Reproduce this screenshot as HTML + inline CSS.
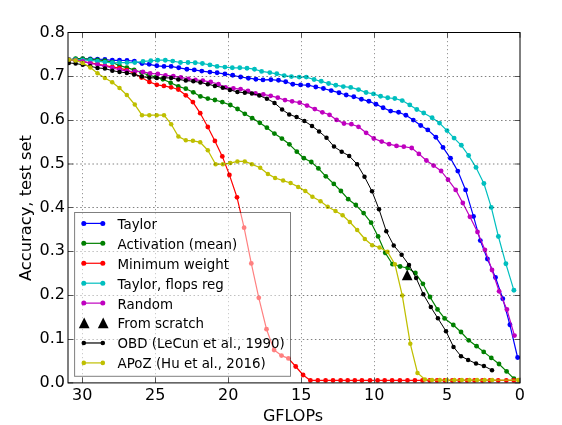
<!DOCTYPE html>
<html><head><meta charset="utf-8"><title>Accuracy vs GFLOPs</title>
<style>html,body{margin:0;padding:0;background:#fff;overflow:hidden}svg{display:block}</style>
</head><body>
<svg width="562" height="425" viewBox="0 0 562 425">
<defs><clipPath id="ax"><rect x="68" y="32.5" width="452" height="350.4"/></clipPath></defs>
<rect width="562" height="425" fill="#fff"/>
<g clip-path="url(#ax)">
<path d="M68.8 59.8 L75.6 59.2 L82.7 59 L90.3 58.9 L97.5 59.2 L104.9 59.5 L112.3 60.3 L119.5 60.3 L127 60.5 L134.4 61.2 L142 63.6 L149.2 64.3 L156.8 65.8 L164 66.4 L171.1 66.4 L178.7 67.8 L186.9 69.2 L194.3 69.9 L201.8 71.1 L209.9 72.1 L217.1 72.8 L224.9 73.9 L232.7 75.3 L240.6 77 L248.4 78.2 L255.9 79.2 L263 79.9 L270.9 79.7 L278.5 80.3 L285.7 81.8 L292.8 84.2 L300.6 84.9 L308.1 85.2 L315.8 87 L323.4 88.5 L331.2 90.6 L339 92.7 L346.2 95 L353.8 96.8 L361.4 99.2 L368.9 101.3 L376 104.2 L383.1 107.7 L390.6 111.1 L398.6 112.3 L405.9 115.3 L413.3 120.1 L420.7 125.5 L427.8 129.9 L435.9 137.3 L443 147.4 L450.5 158.3 L457.8 171.1 L465.6 189.9 L473.5 216.4 L480.3 240.6 L487.4 259 L495.5 277.5 L502.8 298.7 L509.9 324.8 L517.6 357.5" fill="none" stroke="#0000ff" stroke-width="1.2" stroke-linejoin="round"/>
<g fill="#0000ff"><circle cx="68.8" cy="59.8" r="2.45"/><circle cx="75.6" cy="59.2" r="2.45"/><circle cx="82.7" cy="59" r="2.45"/><circle cx="90.3" cy="58.9" r="2.45"/><circle cx="97.5" cy="59.2" r="2.45"/><circle cx="104.9" cy="59.5" r="2.45"/><circle cx="112.3" cy="60.3" r="2.45"/><circle cx="119.5" cy="60.3" r="2.45"/><circle cx="127" cy="60.5" r="2.45"/><circle cx="134.4" cy="61.2" r="2.45"/><circle cx="142" cy="63.6" r="2.45"/><circle cx="149.2" cy="64.3" r="2.45"/><circle cx="156.8" cy="65.8" r="2.45"/><circle cx="164" cy="66.4" r="2.45"/><circle cx="171.1" cy="66.4" r="2.45"/><circle cx="178.7" cy="67.8" r="2.45"/><circle cx="186.9" cy="69.2" r="2.45"/><circle cx="194.3" cy="69.9" r="2.45"/><circle cx="201.8" cy="71.1" r="2.45"/><circle cx="209.9" cy="72.1" r="2.45"/><circle cx="217.1" cy="72.8" r="2.45"/><circle cx="224.9" cy="73.9" r="2.45"/><circle cx="232.7" cy="75.3" r="2.45"/><circle cx="240.6" cy="77" r="2.45"/><circle cx="248.4" cy="78.2" r="2.45"/><circle cx="255.9" cy="79.2" r="2.45"/><circle cx="263" cy="79.9" r="2.45"/><circle cx="270.9" cy="79.7" r="2.45"/><circle cx="278.5" cy="80.3" r="2.45"/><circle cx="285.7" cy="81.8" r="2.45"/><circle cx="292.8" cy="84.2" r="2.45"/><circle cx="300.6" cy="84.9" r="2.45"/><circle cx="308.1" cy="85.2" r="2.45"/><circle cx="315.8" cy="87" r="2.45"/><circle cx="323.4" cy="88.5" r="2.45"/><circle cx="331.2" cy="90.6" r="2.45"/><circle cx="339" cy="92.7" r="2.45"/><circle cx="346.2" cy="95" r="2.45"/><circle cx="353.8" cy="96.8" r="2.45"/><circle cx="361.4" cy="99.2" r="2.45"/><circle cx="368.9" cy="101.3" r="2.45"/><circle cx="376" cy="104.2" r="2.45"/><circle cx="383.1" cy="107.7" r="2.45"/><circle cx="390.6" cy="111.1" r="2.45"/><circle cx="398.6" cy="112.3" r="2.45"/><circle cx="405.9" cy="115.3" r="2.45"/><circle cx="413.3" cy="120.1" r="2.45"/><circle cx="420.7" cy="125.5" r="2.45"/><circle cx="427.8" cy="129.9" r="2.45"/><circle cx="435.9" cy="137.3" r="2.45"/><circle cx="443" cy="147.4" r="2.45"/><circle cx="450.5" cy="158.3" r="2.45"/><circle cx="457.8" cy="171.1" r="2.45"/><circle cx="465.6" cy="189.9" r="2.45"/><circle cx="473.5" cy="216.4" r="2.45"/><circle cx="480.3" cy="240.6" r="2.45"/><circle cx="487.4" cy="259" r="2.45"/><circle cx="495.5" cy="277.5" r="2.45"/><circle cx="502.8" cy="298.7" r="2.45"/><circle cx="509.9" cy="324.8" r="2.45"/><circle cx="517.6" cy="357.5" r="2.45"/></g>
<path d="M68.8 59.8 L75.6 58.7 L82.7 58.7 L90.3 59.3 L97.5 60 L104.9 60.7 L112.3 62.3 L119.5 65.7 L126.9 67.7 L134.1 69.8 L141.5 72.5 L148.8 75.2 L156 77.2 L162.9 79.3 L170.6 82.8 L178.3 86.4 L185.8 88.7 L193.3 92.3 L200.4 96.4 L207.8 98.6 L214.9 100 L222.3 102.1 L230.3 105 L237.5 109 L244.8 113.8 L252.2 118.2 L259.8 122.8 L266.9 127.7 L274.4 133.6 L281.9 138.6 L289.4 144.3 L296.8 151.7 L303.9 158.2 L311.3 162 L318.4 168.4 L325.8 176.3 L333.8 183.9 L340.9 191 L348.2 199.2 L355.8 205 L363.6 213.1 L371.1 222.7 L378.1 236.4 L385.2 252.8 L392.5 264.2 L400.1 266.5 L407.6 268 L415.4 273 L422.9 283.8 L430 297 L437.5 309.4 L444.6 318.4 L453.3 325 L461 332 L468.7 340.3 L476.6 346.2 L483.7 351.9 L491.3 357.9 L499 364 L506.6 371.4 L513.9 378.6" fill="none" stroke="#008000" stroke-width="1.2" stroke-linejoin="round"/>
<g fill="#008000"><circle cx="68.8" cy="59.8" r="2.4"/><circle cx="75.6" cy="58.7" r="2.4"/><circle cx="82.7" cy="58.7" r="2.4"/><circle cx="90.3" cy="59.3" r="2.4"/><circle cx="97.5" cy="60" r="2.4"/><circle cx="104.9" cy="60.7" r="2.4"/><circle cx="112.3" cy="62.3" r="2.4"/><circle cx="119.5" cy="65.7" r="2.4"/><circle cx="126.9" cy="67.7" r="2.4"/><circle cx="134.1" cy="69.8" r="2.4"/><circle cx="141.5" cy="72.5" r="2.4"/><circle cx="148.8" cy="75.2" r="2.4"/><circle cx="156" cy="77.2" r="2.4"/><circle cx="162.9" cy="79.3" r="2.4"/><circle cx="170.6" cy="82.8" r="2.4"/><circle cx="178.3" cy="86.4" r="2.4"/><circle cx="185.8" cy="88.7" r="2.4"/><circle cx="193.3" cy="92.3" r="2.4"/><circle cx="200.4" cy="96.4" r="2.4"/><circle cx="207.8" cy="98.6" r="2.4"/><circle cx="214.9" cy="100" r="2.4"/><circle cx="222.3" cy="102.1" r="2.4"/><circle cx="230.3" cy="105" r="2.4"/><circle cx="237.5" cy="109" r="2.4"/><circle cx="244.8" cy="113.8" r="2.4"/><circle cx="252.2" cy="118.2" r="2.4"/><circle cx="259.8" cy="122.8" r="2.4"/><circle cx="266.9" cy="127.7" r="2.4"/><circle cx="274.4" cy="133.6" r="2.4"/><circle cx="281.9" cy="138.6" r="2.4"/><circle cx="289.4" cy="144.3" r="2.4"/><circle cx="296.8" cy="151.7" r="2.4"/><circle cx="303.9" cy="158.2" r="2.4"/><circle cx="311.3" cy="162" r="2.4"/><circle cx="318.4" cy="168.4" r="2.4"/><circle cx="325.8" cy="176.3" r="2.4"/><circle cx="333.8" cy="183.9" r="2.4"/><circle cx="340.9" cy="191" r="2.4"/><circle cx="348.2" cy="199.2" r="2.4"/><circle cx="355.8" cy="205" r="2.4"/><circle cx="363.6" cy="213.1" r="2.4"/><circle cx="371.1" cy="222.7" r="2.4"/><circle cx="378.1" cy="236.4" r="2.4"/><circle cx="385.2" cy="252.8" r="2.4"/><circle cx="392.5" cy="264.2" r="2.4"/><circle cx="400.1" cy="266.5" r="2.4"/><circle cx="407.6" cy="268" r="2.4"/><circle cx="415.4" cy="273" r="2.4"/><circle cx="422.9" cy="283.8" r="2.4"/><circle cx="430" cy="297" r="2.4"/><circle cx="437.5" cy="309.4" r="2.4"/><circle cx="444.6" cy="318.4" r="2.4"/><circle cx="453.3" cy="325" r="2.4"/><circle cx="461" cy="332" r="2.4"/><circle cx="468.7" cy="340.3" r="2.4"/><circle cx="476.6" cy="346.2" r="2.4"/><circle cx="483.7" cy="351.9" r="2.4"/><circle cx="491.3" cy="357.9" r="2.4"/><circle cx="499" cy="364" r="2.4"/><circle cx="506.6" cy="371.4" r="2.4"/><circle cx="513.9" cy="378.6" r="2.4"/></g>
<path d="M68.8 59.8 L75.6 60.3 L82.7 61.5 L90.3 62.8 L97.5 64 L104.9 65.7 L112.3 66.8 L119.5 68.2 L126.9 70.2 L134.1 73.5 L141.5 77.5 L149.4 81.9 L156.8 84.8 L163.9 85.9 L171.1 87.3 L178.3 89.5 L185.8 95.3 L192.9 102.1 L200.2 113.2 L207.8 127 L214.9 140.9 L222.3 156.4 L229.4 174.9 L237 197.3 L244.1 227.7 L251.3 263.4 L258.8 297.8 L266.5 329.2 L274.1 350 L281.5 355.6 L288.4 358.4 L295.7 366.5 L303.1 375 L310.4 380.4 L317.8 380.4 L325.6 380.4 L333 380.4 L340.6 380.4 L347.7 380.4 L354.8 380.4 L361.9 380.4 L370 380.4 L377.6 380.4 L384.7 380.4 L392.1 380.4 L399.9 380.4 L407.5 380.4 L414.9 380.4 L422.5 380.4 L429.7 380.4 L437.1 380.4 L444.8 380.4 L452.3 380.4 L459.7 380.4 L467.2 380.4 L474.5 380.4 L482.4 380.4 L489.9 380.4 L498.2 380.4 L506.3 380.4 L513.8 380.4" fill="none" stroke="#ff0000" stroke-width="1.2" stroke-linejoin="round"/>
<g fill="#ff0000"><circle cx="68.8" cy="59.8" r="2.4"/><circle cx="75.6" cy="60.3" r="2.4"/><circle cx="82.7" cy="61.5" r="2.4"/><circle cx="90.3" cy="62.8" r="2.4"/><circle cx="97.5" cy="64" r="2.4"/><circle cx="104.9" cy="65.7" r="2.4"/><circle cx="112.3" cy="66.8" r="2.4"/><circle cx="119.5" cy="68.2" r="2.4"/><circle cx="126.9" cy="70.2" r="2.4"/><circle cx="134.1" cy="73.5" r="2.4"/><circle cx="141.5" cy="77.5" r="2.4"/><circle cx="149.4" cy="81.9" r="2.4"/><circle cx="156.8" cy="84.8" r="2.4"/><circle cx="163.9" cy="85.9" r="2.4"/><circle cx="171.1" cy="87.3" r="2.4"/><circle cx="178.3" cy="89.5" r="2.4"/><circle cx="185.8" cy="95.3" r="2.4"/><circle cx="192.9" cy="102.1" r="2.4"/><circle cx="200.2" cy="113.2" r="2.4"/><circle cx="207.8" cy="127" r="2.4"/><circle cx="214.9" cy="140.9" r="2.4"/><circle cx="222.3" cy="156.4" r="2.4"/><circle cx="229.4" cy="174.9" r="2.4"/><circle cx="237" cy="197.3" r="2.4"/><circle cx="244.1" cy="227.7" r="2.4"/><circle cx="251.3" cy="263.4" r="2.4"/><circle cx="258.8" cy="297.8" r="2.4"/><circle cx="266.5" cy="329.2" r="2.4"/><circle cx="274.1" cy="350" r="2.4"/><circle cx="281.5" cy="355.6" r="2.4"/><circle cx="288.4" cy="358.4" r="2.4"/><circle cx="295.7" cy="366.5" r="2.4"/><circle cx="303.1" cy="375" r="2.4"/><circle cx="310.4" cy="380.4" r="2.4"/><circle cx="317.8" cy="380.4" r="2.4"/><circle cx="325.6" cy="380.4" r="2.4"/><circle cx="333" cy="380.4" r="2.4"/><circle cx="340.6" cy="380.4" r="2.4"/><circle cx="347.7" cy="380.4" r="2.4"/><circle cx="354.8" cy="380.4" r="2.4"/><circle cx="361.9" cy="380.4" r="2.4"/><circle cx="370" cy="380.4" r="2.4"/><circle cx="377.6" cy="380.4" r="2.4"/><circle cx="384.7" cy="380.4" r="2.4"/><circle cx="392.1" cy="380.4" r="2.4"/><circle cx="399.9" cy="380.4" r="2.4"/><circle cx="407.5" cy="380.4" r="2.4"/><circle cx="414.9" cy="380.4" r="2.4"/><circle cx="422.5" cy="380.4" r="2.4"/><circle cx="429.7" cy="380.4" r="2.4"/><circle cx="437.1" cy="380.4" r="2.4"/><circle cx="444.8" cy="380.4" r="2.4"/><circle cx="452.3" cy="380.4" r="2.4"/><circle cx="459.7" cy="380.4" r="2.4"/><circle cx="467.2" cy="380.4" r="2.4"/><circle cx="474.5" cy="380.4" r="2.4"/><circle cx="482.4" cy="380.4" r="2.4"/><circle cx="489.9" cy="380.4" r="2.4"/><circle cx="498.2" cy="380.4" r="2.4"/><circle cx="506.3" cy="380.4" r="2.4"/><circle cx="513.8" cy="380.4" r="2.4"/></g>
<path d="M68.8 59.8 L75.6 59.8 L82.7 60 L90.3 60.3 L97.5 61.2 L104.9 62.1 L112.3 62.8 L119.5 62.6 L127 62.6 L134.8 62.6 L143 61.4 L150.8 60.8 L157.7 60.2 L165.3 60.2 L172.7 61.1 L180.5 62.5 L188 62.5 L195.2 62.7 L202.4 63.5 L209.9 64.9 L217.1 66.4 L224.9 67.1 L232.3 67.8 L239.8 67.8 L247 68.2 L254.5 69.2 L261.6 71.4 L269.8 72.6 L276.8 73.8 L284.2 75.6 L291.4 76.6 L299.2 77.1 L306.3 77.1 L314.1 79.5 L321.2 81.3 L328.6 83.5 L335.8 85.2 L343.3 86.6 L350.7 87.4 L358.5 89.6 L366.1 92.5 L373.5 93.9 L380.6 96.3 L387.7 97.8 L394.8 98.5 L402.2 100.6 L409.8 104.9 L416.8 109.5 L423.7 113 L432.1 117.8 L439.5 123.1 L447 130.6 L454.1 138.1 L461.3 145.3 L468.6 155.5 L476 167.4 L483.9 183.5 L491.3 207.4 L498.4 236.5 L505.9 263.8 L513.9 290.3" fill="none" stroke="#00bfbf" stroke-width="1.2" stroke-linejoin="round"/>
<g fill="#00bfbf"><circle cx="68.8" cy="59.8" r="2.45"/><circle cx="75.6" cy="59.8" r="2.45"/><circle cx="82.7" cy="60" r="2.45"/><circle cx="90.3" cy="60.3" r="2.45"/><circle cx="97.5" cy="61.2" r="2.45"/><circle cx="104.9" cy="62.1" r="2.45"/><circle cx="112.3" cy="62.8" r="2.45"/><circle cx="119.5" cy="62.6" r="2.45"/><circle cx="127" cy="62.6" r="2.45"/><circle cx="134.8" cy="62.6" r="2.45"/><circle cx="143" cy="61.4" r="2.45"/><circle cx="150.8" cy="60.8" r="2.45"/><circle cx="157.7" cy="60.2" r="2.45"/><circle cx="165.3" cy="60.2" r="2.45"/><circle cx="172.7" cy="61.1" r="2.45"/><circle cx="180.5" cy="62.5" r="2.45"/><circle cx="188" cy="62.5" r="2.45"/><circle cx="195.2" cy="62.7" r="2.45"/><circle cx="202.4" cy="63.5" r="2.45"/><circle cx="209.9" cy="64.9" r="2.45"/><circle cx="217.1" cy="66.4" r="2.45"/><circle cx="224.9" cy="67.1" r="2.45"/><circle cx="232.3" cy="67.8" r="2.45"/><circle cx="239.8" cy="67.8" r="2.45"/><circle cx="247" cy="68.2" r="2.45"/><circle cx="254.5" cy="69.2" r="2.45"/><circle cx="261.6" cy="71.4" r="2.45"/><circle cx="269.8" cy="72.6" r="2.45"/><circle cx="276.8" cy="73.8" r="2.45"/><circle cx="284.2" cy="75.6" r="2.45"/><circle cx="291.4" cy="76.6" r="2.45"/><circle cx="299.2" cy="77.1" r="2.45"/><circle cx="306.3" cy="77.1" r="2.45"/><circle cx="314.1" cy="79.5" r="2.45"/><circle cx="321.2" cy="81.3" r="2.45"/><circle cx="328.6" cy="83.5" r="2.45"/><circle cx="335.8" cy="85.2" r="2.45"/><circle cx="343.3" cy="86.6" r="2.45"/><circle cx="350.7" cy="87.4" r="2.45"/><circle cx="358.5" cy="89.6" r="2.45"/><circle cx="366.1" cy="92.5" r="2.45"/><circle cx="373.5" cy="93.9" r="2.45"/><circle cx="380.6" cy="96.3" r="2.45"/><circle cx="387.7" cy="97.8" r="2.45"/><circle cx="394.8" cy="98.5" r="2.45"/><circle cx="402.2" cy="100.6" r="2.45"/><circle cx="409.8" cy="104.9" r="2.45"/><circle cx="416.8" cy="109.5" r="2.45"/><circle cx="423.7" cy="113" r="2.45"/><circle cx="432.1" cy="117.8" r="2.45"/><circle cx="439.5" cy="123.1" r="2.45"/><circle cx="447" cy="130.6" r="2.45"/><circle cx="454.1" cy="138.1" r="2.45"/><circle cx="461.3" cy="145.3" r="2.45"/><circle cx="468.6" cy="155.5" r="2.45"/><circle cx="476" cy="167.4" r="2.45"/><circle cx="483.9" cy="183.5" r="2.45"/><circle cx="491.3" cy="207.4" r="2.45"/><circle cx="498.4" cy="236.5" r="2.45"/><circle cx="505.9" cy="263.8" r="2.45"/><circle cx="513.9" cy="290.3" r="2.45"/></g>
<path d="M68.8 59.9 L75.6 60.3 L82.7 61.3 L90.3 63.4 L97.5 64.6 L104.9 66.2 L112.3 68 L119.5 69.6 L127 71.2 L135 71.3 L142.9 71.9 L150.2 73.4 L157.8 74 L165.5 75.4 L173.3 76.1 L180.8 77.4 L188.3 78.9 L195.4 79.9 L202.8 80.6 L210.7 82 L218.5 84.2 L225.6 87.3 L233.4 88.4 L240.6 89.1 L248 91 L255.5 93.4 L263.3 94.4 L270.7 95.8 L277.8 97.7 L285 100.1 L292.1 101.3 L299.6 102.7 L307 105.6 L314.8 109.1 L322.4 112.3 L329.5 114.8 L336.6 119.9 L344 123.5 L351.4 124.2 L358.5 126.8 L366.1 132.8 L373.8 138.5 L381.7 141.6 L389.1 144.2 L396.5 145.9 L403.8 146.7 L411.7 148 L418.9 153.9 L426.4 160.5 L433.6 165.6 L441.1 171 L448 179.7 L455.7 189.9 L462.8 203 L469.9 216.8 L477.5 232 L484.9 249.8 L492 270 L499.1 291.3 L506.9 309.5 L514.5 335.6" fill="none" stroke="#bf00bf" stroke-width="1.2" stroke-linejoin="round"/>
<g fill="#bf00bf"><circle cx="68.8" cy="59.9" r="2.4"/><circle cx="75.6" cy="60.3" r="2.4"/><circle cx="82.7" cy="61.3" r="2.4"/><circle cx="90.3" cy="63.4" r="2.4"/><circle cx="97.5" cy="64.6" r="2.4"/><circle cx="104.9" cy="66.2" r="2.4"/><circle cx="112.3" cy="68" r="2.4"/><circle cx="119.5" cy="69.6" r="2.4"/><circle cx="127" cy="71.2" r="2.4"/><circle cx="135" cy="71.3" r="2.4"/><circle cx="142.9" cy="71.9" r="2.4"/><circle cx="150.2" cy="73.4" r="2.4"/><circle cx="157.8" cy="74" r="2.4"/><circle cx="165.5" cy="75.4" r="2.4"/><circle cx="173.3" cy="76.1" r="2.4"/><circle cx="180.8" cy="77.4" r="2.4"/><circle cx="188.3" cy="78.9" r="2.4"/><circle cx="195.4" cy="79.9" r="2.4"/><circle cx="202.8" cy="80.6" r="2.4"/><circle cx="210.7" cy="82" r="2.4"/><circle cx="218.5" cy="84.2" r="2.4"/><circle cx="225.6" cy="87.3" r="2.4"/><circle cx="233.4" cy="88.4" r="2.4"/><circle cx="240.6" cy="89.1" r="2.4"/><circle cx="248" cy="91" r="2.4"/><circle cx="255.5" cy="93.4" r="2.4"/><circle cx="263.3" cy="94.4" r="2.4"/><circle cx="270.7" cy="95.8" r="2.4"/><circle cx="277.8" cy="97.7" r="2.4"/><circle cx="285" cy="100.1" r="2.4"/><circle cx="292.1" cy="101.3" r="2.4"/><circle cx="299.6" cy="102.7" r="2.4"/><circle cx="307" cy="105.6" r="2.4"/><circle cx="314.8" cy="109.1" r="2.4"/><circle cx="322.4" cy="112.3" r="2.4"/><circle cx="329.5" cy="114.8" r="2.4"/><circle cx="336.6" cy="119.9" r="2.4"/><circle cx="344" cy="123.5" r="2.4"/><circle cx="351.4" cy="124.2" r="2.4"/><circle cx="358.5" cy="126.8" r="2.4"/><circle cx="366.1" cy="132.8" r="2.4"/><circle cx="373.8" cy="138.5" r="2.4"/><circle cx="381.7" cy="141.6" r="2.4"/><circle cx="389.1" cy="144.2" r="2.4"/><circle cx="396.5" cy="145.9" r="2.4"/><circle cx="403.8" cy="146.7" r="2.4"/><circle cx="411.7" cy="148" r="2.4"/><circle cx="418.9" cy="153.9" r="2.4"/><circle cx="426.4" cy="160.5" r="2.4"/><circle cx="433.6" cy="165.6" r="2.4"/><circle cx="441.1" cy="171" r="2.4"/><circle cx="448" cy="179.7" r="2.4"/><circle cx="455.7" cy="189.9" r="2.4"/><circle cx="462.8" cy="203" r="2.4"/><circle cx="469.9" cy="216.8" r="2.4"/><circle cx="477.5" cy="232" r="2.4"/><circle cx="484.9" cy="249.8" r="2.4"/><circle cx="492" cy="270" r="2.4"/><circle cx="499.1" cy="291.3" r="2.4"/><circle cx="506.9" cy="309.5" r="2.4"/><circle cx="514.5" cy="335.6" r="2.4"/></g>
<path d="M68.8 62.9 L75.6 63.6 L82.7 64.7 L90.3 66.3 L97.5 67.9 L104.9 68.6 L112.3 70.7 L119.5 71.9 L126.9 72.9 L134.1 74.4 L141.9 76.6 L149.3 77.8 L156.8 77.9 L163.9 77.9 L171.1 77.9 L178.3 79.4 L185.8 80.6 L193.3 81.3 L200.4 82.5 L207.8 84.2 L214.9 85.9 L222.8 87.7 L229.9 89.9 L237.4 92 L244.8 92.7 L251.9 93.4 L259.3 95.6 L266.9 98.7 L274.5 102.9 L282.1 109.5 L289.2 114.4 L296.6 117.1 L304.4 121 L312 126 L319.1 131.4 L326.5 137.8 L334 146.6 L341.7 151.7 L349.2 155.9 L357.1 164.2 L364.5 176.8 L372 191.3 L379 209.3 L386.3 231.3 L393.7 245.4 L401.6 254.8 L409 265 L416.1 277.9 L423.3 294.3 L430.8 307.1 L437.9 318.3 L446 331.2 L453.5 346.9 L461 356.2 L468.1 359.9 L476 363.5 L483.9 365.9 L492 370.2" fill="none" stroke="#000000" stroke-width="1.0" stroke-linejoin="round"/>
<g fill="#000000"><circle cx="68.8" cy="62.9" r="2.25"/><circle cx="75.6" cy="63.6" r="2.25"/><circle cx="82.7" cy="64.7" r="2.25"/><circle cx="90.3" cy="66.3" r="2.25"/><circle cx="97.5" cy="67.9" r="2.25"/><circle cx="104.9" cy="68.6" r="2.25"/><circle cx="112.3" cy="70.7" r="2.25"/><circle cx="119.5" cy="71.9" r="2.25"/><circle cx="126.9" cy="72.9" r="2.25"/><circle cx="134.1" cy="74.4" r="2.25"/><circle cx="141.9" cy="76.6" r="2.25"/><circle cx="149.3" cy="77.8" r="2.25"/><circle cx="156.8" cy="77.9" r="2.25"/><circle cx="163.9" cy="77.9" r="2.25"/><circle cx="171.1" cy="77.9" r="2.25"/><circle cx="178.3" cy="79.4" r="2.25"/><circle cx="185.8" cy="80.6" r="2.25"/><circle cx="193.3" cy="81.3" r="2.25"/><circle cx="200.4" cy="82.5" r="2.25"/><circle cx="207.8" cy="84.2" r="2.25"/><circle cx="214.9" cy="85.9" r="2.25"/><circle cx="222.8" cy="87.7" r="2.25"/><circle cx="229.9" cy="89.9" r="2.25"/><circle cx="237.4" cy="92" r="2.25"/><circle cx="244.8" cy="92.7" r="2.25"/><circle cx="251.9" cy="93.4" r="2.25"/><circle cx="259.3" cy="95.6" r="2.25"/><circle cx="266.9" cy="98.7" r="2.25"/><circle cx="274.5" cy="102.9" r="2.25"/><circle cx="282.1" cy="109.5" r="2.25"/><circle cx="289.2" cy="114.4" r="2.25"/><circle cx="296.6" cy="117.1" r="2.25"/><circle cx="304.4" cy="121" r="2.25"/><circle cx="312" cy="126" r="2.25"/><circle cx="319.1" cy="131.4" r="2.25"/><circle cx="326.5" cy="137.8" r="2.25"/><circle cx="334" cy="146.6" r="2.25"/><circle cx="341.7" cy="151.7" r="2.25"/><circle cx="349.2" cy="155.9" r="2.25"/><circle cx="357.1" cy="164.2" r="2.25"/><circle cx="364.5" cy="176.8" r="2.25"/><circle cx="372" cy="191.3" r="2.25"/><circle cx="379" cy="209.3" r="2.25"/><circle cx="386.3" cy="231.3" r="2.25"/><circle cx="393.7" cy="245.4" r="2.25"/><circle cx="401.6" cy="254.8" r="2.25"/><circle cx="409" cy="265" r="2.25"/><circle cx="416.1" cy="277.9" r="2.25"/><circle cx="423.3" cy="294.3" r="2.25"/><circle cx="430.8" cy="307.1" r="2.25"/><circle cx="437.9" cy="318.3" r="2.25"/><circle cx="446" cy="331.2" r="2.25"/><circle cx="453.5" cy="346.9" r="2.25"/><circle cx="461" cy="356.2" r="2.25"/><circle cx="468.1" cy="359.9" r="2.25"/><circle cx="476" cy="363.5" r="2.25"/><circle cx="483.9" cy="365.9" r="2.25"/><circle cx="492" cy="370.2" r="2.25"/></g>
<path d="M68.8 59.7 L75.6 60.5 L82.7 62.9 L90.3 67.6 L97.5 73.2 L104.9 78 L112.2 82.3 L119.5 88 L126.8 95 L134.8 104.6 L142 115.2 L149.3 115.2 L156.7 115.2 L164 115.2 L171.2 124.2 L178.4 136.6 L185.8 140.3 L192.9 140.8 L200.2 142.2 L207.8 150.2 L215.6 164.2 L222.8 164.2 L230.3 163.1 L237.4 161.4 L244.8 161.4 L251.9 164.2 L260.2 167.8 L267.9 173.9 L275.1 178 L283.1 180.6 L290.6 183 L298.2 186.9 L305.3 191.1 L312.4 196.8 L320.5 201.3 L327.7 206.7 L335.5 211 L342.6 215.3 L349.8 222 L357.2 230 L364.8 239 L372.2 245.2 L379.5 247.5 L387.5 251.8 L394.9 264.2 L402.3 295.6 L410.3 343.8 L417.5 372.9 L424.9 379.5 L432 380.1 L439.8 380.1 L446.9 380.1 L454.4 380.1 L461.9 380.1 L469.5 380.1 L477.1 380.1 L484.6 380.1 L492.2 380.1 L518.2 380.1" fill="none" stroke="#bfbf00" stroke-width="1.25" stroke-linejoin="round"/>
<g fill="#bfbf00"><circle cx="68.8" cy="59.7" r="2.25"/><circle cx="75.6" cy="60.5" r="2.25"/><circle cx="82.7" cy="62.9" r="2.25"/><circle cx="90.3" cy="67.6" r="2.25"/><circle cx="97.5" cy="73.2" r="2.25"/><circle cx="104.9" cy="78" r="2.25"/><circle cx="112.2" cy="82.3" r="2.25"/><circle cx="119.5" cy="88" r="2.25"/><circle cx="126.8" cy="95" r="2.25"/><circle cx="134.8" cy="104.6" r="2.25"/><circle cx="142" cy="115.2" r="2.25"/><circle cx="149.3" cy="115.2" r="2.25"/><circle cx="156.7" cy="115.2" r="2.25"/><circle cx="164" cy="115.2" r="2.25"/><circle cx="171.2" cy="124.2" r="2.25"/><circle cx="178.4" cy="136.6" r="2.25"/><circle cx="185.8" cy="140.3" r="2.25"/><circle cx="192.9" cy="140.8" r="2.25"/><circle cx="200.2" cy="142.2" r="2.25"/><circle cx="207.8" cy="150.2" r="2.25"/><circle cx="215.6" cy="164.2" r="2.25"/><circle cx="222.8" cy="164.2" r="2.25"/><circle cx="230.3" cy="163.1" r="2.25"/><circle cx="237.4" cy="161.4" r="2.25"/><circle cx="244.8" cy="161.4" r="2.25"/><circle cx="251.9" cy="164.2" r="2.25"/><circle cx="260.2" cy="167.8" r="2.25"/><circle cx="267.9" cy="173.9" r="2.25"/><circle cx="275.1" cy="178" r="2.25"/><circle cx="283.1" cy="180.6" r="2.25"/><circle cx="290.6" cy="183" r="2.25"/><circle cx="298.2" cy="186.9" r="2.25"/><circle cx="305.3" cy="191.1" r="2.25"/><circle cx="312.4" cy="196.8" r="2.25"/><circle cx="320.5" cy="201.3" r="2.25"/><circle cx="327.7" cy="206.7" r="2.25"/><circle cx="335.5" cy="211" r="2.25"/><circle cx="342.6" cy="215.3" r="2.25"/><circle cx="349.8" cy="222" r="2.25"/><circle cx="357.2" cy="230" r="2.25"/><circle cx="364.8" cy="239" r="2.25"/><circle cx="372.2" cy="245.2" r="2.25"/><circle cx="379.5" cy="247.5" r="2.25"/><circle cx="387.5" cy="251.8" r="2.25"/><circle cx="394.9" cy="264.2" r="2.25"/><circle cx="402.3" cy="295.6" r="2.25"/><circle cx="410.3" cy="343.8" r="2.25"/><circle cx="417.5" cy="372.9" r="2.25"/><circle cx="424.9" cy="379.5" r="2.25"/><circle cx="432" cy="380.1" r="2.25"/><circle cx="439.8" cy="380.1" r="2.25"/><circle cx="446.9" cy="380.1" r="2.25"/><circle cx="454.4" cy="380.1" r="2.25"/><circle cx="461.9" cy="380.1" r="2.25"/><circle cx="469.5" cy="380.1" r="2.25"/><circle cx="477.1" cy="380.1" r="2.25"/><circle cx="484.6" cy="380.1" r="2.25"/><circle cx="492.2" cy="380.1" r="2.25"/><circle cx="518.2" cy="380.1" r="2.25"/></g>
<path d="M407.2 269.4 L401.8 280.2 L412.6 280.2 Z" fill="#000"/>
</g>
<g stroke="#000" stroke-width="0.5"><line x1="82.5" y1="383" x2="82.5" y2="32" stroke-dasharray="1 3" stroke-dashoffset="3.2"/><line x1="155.5" y1="383" x2="155.5" y2="32" stroke-dasharray="1 3" stroke-dashoffset="3.2"/><line x1="228.5" y1="383" x2="228.5" y2="32" stroke-dasharray="1 3" stroke-dashoffset="3.2"/><line x1="301.5" y1="383" x2="301.5" y2="32" stroke-dasharray="1 3" stroke-dashoffset="3.2"/><line x1="374.5" y1="383" x2="374.5" y2="32" stroke-dasharray="1 3" stroke-dashoffset="3.2"/><line x1="447.5" y1="383" x2="447.5" y2="32" stroke-dasharray="1 3" stroke-dashoffset="3.2"/><line x1="68" y1="76.5" x2="520" y2="76.5" stroke-dasharray="1.5 2.546" stroke-dashoffset="3.94"/><line x1="68" y1="120.5" x2="520" y2="120.5" stroke-dasharray="1.5 2.546" stroke-dashoffset="3.94"/><line x1="68" y1="164" x2="520" y2="164" stroke-dasharray="1.5 2.546" stroke-dashoffset="3.94"/><line x1="68" y1="207.5" x2="520" y2="207.5" stroke-dasharray="1.5 2.546" stroke-dashoffset="3.94"/><line x1="68" y1="251.5" x2="520" y2="251.5" stroke-dasharray="1.5 2.546" stroke-dashoffset="3.94"/><line x1="68" y1="295.5" x2="520" y2="295.5" stroke-dasharray="1.5 2.546" stroke-dashoffset="3.94"/><line x1="68" y1="339.5" x2="520" y2="339.5" stroke-dasharray="1.5 2.546" stroke-dashoffset="3.94"/></g>
<g stroke="#555" stroke-width="1"><line x1="82.5" y1="382.9" x2="82.5" y2="377.7"/><line x1="82.5" y1="32.5" x2="82.5" y2="37.7"/><line x1="155.5" y1="382.9" x2="155.5" y2="377.7"/><line x1="155.5" y1="32.5" x2="155.5" y2="37.7"/><line x1="228.5" y1="382.9" x2="228.5" y2="377.7"/><line x1="228.5" y1="32.5" x2="228.5" y2="37.7"/><line x1="301.5" y1="382.9" x2="301.5" y2="377.7"/><line x1="301.5" y1="32.5" x2="301.5" y2="37.7"/><line x1="374.5" y1="382.9" x2="374.5" y2="377.7"/><line x1="374.5" y1="32.5" x2="374.5" y2="37.7"/><line x1="447.5" y1="382.9" x2="447.5" y2="377.7"/><line x1="447.5" y1="32.5" x2="447.5" y2="37.7"/><line x1="520" y1="382.9" x2="520" y2="377.7"/><line x1="520" y1="32.5" x2="520" y2="37.7"/><line x1="68" y1="76.5" x2="73.2" y2="76.5"/><line x1="520" y1="76.5" x2="514.8" y2="76.5"/><line x1="68" y1="120.5" x2="73.2" y2="120.5"/><line x1="520" y1="120.5" x2="514.8" y2="120.5"/><line x1="68" y1="164" x2="73.2" y2="164"/><line x1="520" y1="164" x2="514.8" y2="164"/><line x1="68" y1="207.5" x2="73.2" y2="207.5"/><line x1="520" y1="207.5" x2="514.8" y2="207.5"/><line x1="68" y1="251.5" x2="73.2" y2="251.5"/><line x1="520" y1="251.5" x2="514.8" y2="251.5"/><line x1="68" y1="295.5" x2="73.2" y2="295.5"/><line x1="520" y1="295.5" x2="514.8" y2="295.5"/><line x1="68" y1="339.5" x2="73.2" y2="339.5"/><line x1="520" y1="339.5" x2="514.8" y2="339.5"/><line x1="68" y1="32.5" x2="73.2" y2="32.5"/><line x1="520" y1="32.5" x2="514.8" y2="32.5"/><line x1="68" y1="382.9" x2="73.2" y2="382.9"/><line x1="520" y1="382.9" x2="514.8" y2="382.9"/></g>
<rect x="68" y="32.5" width="452" height="350.4" fill="none" stroke="#000" stroke-width="1"/>
<text x="82.2" y="399.6" font-family="'DejaVu Sans', 'Liberation Sans', sans-serif" font-size="16" text-anchor="middle" fill="#000">30</text>
<text x="155.2" y="399.6" font-family="'DejaVu Sans', 'Liberation Sans', sans-serif" font-size="16" text-anchor="middle" fill="#000">25</text>
<text x="228.2" y="399.6" font-family="'DejaVu Sans', 'Liberation Sans', sans-serif" font-size="16" text-anchor="middle" fill="#000">20</text>
<text x="301.2" y="399.6" font-family="'DejaVu Sans', 'Liberation Sans', sans-serif" font-size="16" text-anchor="middle" fill="#000">15</text>
<text x="374.2" y="399.6" font-family="'DejaVu Sans', 'Liberation Sans', sans-serif" font-size="16" text-anchor="middle" fill="#000">10</text>
<text x="447.2" y="399.6" font-family="'DejaVu Sans', 'Liberation Sans', sans-serif" font-size="16" text-anchor="middle" fill="#000">5</text>
<text x="519.9" y="399.6" font-family="'DejaVu Sans', 'Liberation Sans', sans-serif" font-size="16" text-anchor="middle" fill="#000">0</text>
<text x="65" y="386.8" font-family="'DejaVu Sans', 'Liberation Sans', sans-serif" font-size="16" text-anchor="end" fill="#000">0.0</text>
<text x="65" y="343.02" font-family="'DejaVu Sans', 'Liberation Sans', sans-serif" font-size="16" text-anchor="end" fill="#000">0.1</text>
<text x="65" y="299.25" font-family="'DejaVu Sans', 'Liberation Sans', sans-serif" font-size="16" text-anchor="end" fill="#000">0.2</text>
<text x="65" y="255.47" font-family="'DejaVu Sans', 'Liberation Sans', sans-serif" font-size="16" text-anchor="end" fill="#000">0.3</text>
<text x="65" y="211.7" font-family="'DejaVu Sans', 'Liberation Sans', sans-serif" font-size="16" text-anchor="end" fill="#000">0.4</text>
<text x="65" y="167.92" font-family="'DejaVu Sans', 'Liberation Sans', sans-serif" font-size="16" text-anchor="end" fill="#000">0.5</text>
<text x="65" y="124.15" font-family="'DejaVu Sans', 'Liberation Sans', sans-serif" font-size="16" text-anchor="end" fill="#000">0.6</text>
<text x="65" y="80.38" font-family="'DejaVu Sans', 'Liberation Sans', sans-serif" font-size="16" text-anchor="end" fill="#000">0.7</text>
<text x="65" y="36.6" font-family="'DejaVu Sans', 'Liberation Sans', sans-serif" font-size="16" text-anchor="end" fill="#000">0.8</text>
<text x="293" y="421.1" font-family="'DejaVu Sans', 'Liberation Sans', sans-serif" font-size="16" text-anchor="middle" fill="#000">GFLOPs</text>
<text transform="translate(30.7 208.05) rotate(-90)" x="0" y="0" font-family="'DejaVu Sans', 'Liberation Sans', sans-serif" font-size="16.3" text-anchor="middle" fill="#000">Accuracy, test set</text>
<rect x="74.6" y="212.5" width="215.9" height="163.8" fill="#fff" fill-opacity="0.5" stroke="#000" stroke-opacity="0.5" stroke-width="1"/>
<line x1="83.8" y1="223.4" x2="102.8" y2="223.4" stroke="#0000ff" stroke-width="1.2"/>
<circle cx="83.8" cy="223.4" r="2.5" fill="#0000ff"/><circle cx="102.8" cy="223.4" r="2.5" fill="#0000ff"/>
<text x="117.5" y="228.8" font-family="'DejaVu Sans', 'Liberation Sans', sans-serif" font-size="13.4" fill="#000">Taylor</text>
<line x1="83.8" y1="243.33" x2="102.8" y2="243.33" stroke="#008000" stroke-width="1.2"/>
<circle cx="83.8" cy="243.33" r="2.5" fill="#008000"/><circle cx="102.8" cy="243.33" r="2.5" fill="#008000"/>
<text x="117.5" y="248.73" font-family="'DejaVu Sans', 'Liberation Sans', sans-serif" font-size="13.4" fill="#000">Activation (mean)</text>
<line x1="83.8" y1="263.26" x2="102.8" y2="263.26" stroke="#ff0000" stroke-width="1.2"/>
<circle cx="83.8" cy="263.26" r="2.5" fill="#ff0000"/><circle cx="102.8" cy="263.26" r="2.5" fill="#ff0000"/>
<text x="117.5" y="268.66" font-family="'DejaVu Sans', 'Liberation Sans', sans-serif" font-size="13.4" fill="#000">Minimum weight</text>
<line x1="83.8" y1="283.19" x2="102.8" y2="283.19" stroke="#00bfbf" stroke-width="1.2"/>
<circle cx="83.8" cy="283.19" r="2.5" fill="#00bfbf"/><circle cx="102.8" cy="283.19" r="2.5" fill="#00bfbf"/>
<text x="117.5" y="288.59" font-family="'DejaVu Sans', 'Liberation Sans', sans-serif" font-size="13.4" fill="#000">Taylor, flops reg</text>
<line x1="83.8" y1="303.12" x2="102.8" y2="303.12" stroke="#bf00bf" stroke-width="1.2"/>
<circle cx="83.8" cy="303.12" r="2.5" fill="#bf00bf"/><circle cx="102.8" cy="303.12" r="2.5" fill="#bf00bf"/>
<text x="117.5" y="308.52" font-family="'DejaVu Sans', 'Liberation Sans', sans-serif" font-size="13.4" fill="#000">Random</text>
<path d="M84.2 317.55 L78.8 328.35 L89.6 328.35 Z" fill="#000"/>
<path d="M103.2 317.55 L97.8 328.35 L108.6 328.35 Z" fill="#000"/>
<text x="117.5" y="328.45" font-family="'DejaVu Sans', 'Liberation Sans', sans-serif" font-size="13.4" fill="#000">From scratch</text>
<line x1="83.8" y1="342.98" x2="102.8" y2="342.98" stroke="#000000" stroke-width="1.2"/>
<circle cx="83.8" cy="342.98" r="2.3" fill="#000000"/><circle cx="102.8" cy="342.98" r="2.3" fill="#000000"/>
<text x="117.5" y="348.38" font-family="'DejaVu Sans', 'Liberation Sans', sans-serif" font-size="13.4" fill="#000">OBD (LeCun et al., 1990)</text>
<line x1="83.8" y1="362.91" x2="102.8" y2="362.91" stroke="#bfbf00" stroke-width="1.2"/>
<circle cx="83.8" cy="362.91" r="2.3" fill="#bfbf00"/><circle cx="102.8" cy="362.91" r="2.3" fill="#bfbf00"/>
<text x="117.5" y="368.31" font-family="'DejaVu Sans', 'Liberation Sans', sans-serif" font-size="13.4" fill="#000">APoZ (Hu et al., 2016)</text>
</svg>
</body></html>
